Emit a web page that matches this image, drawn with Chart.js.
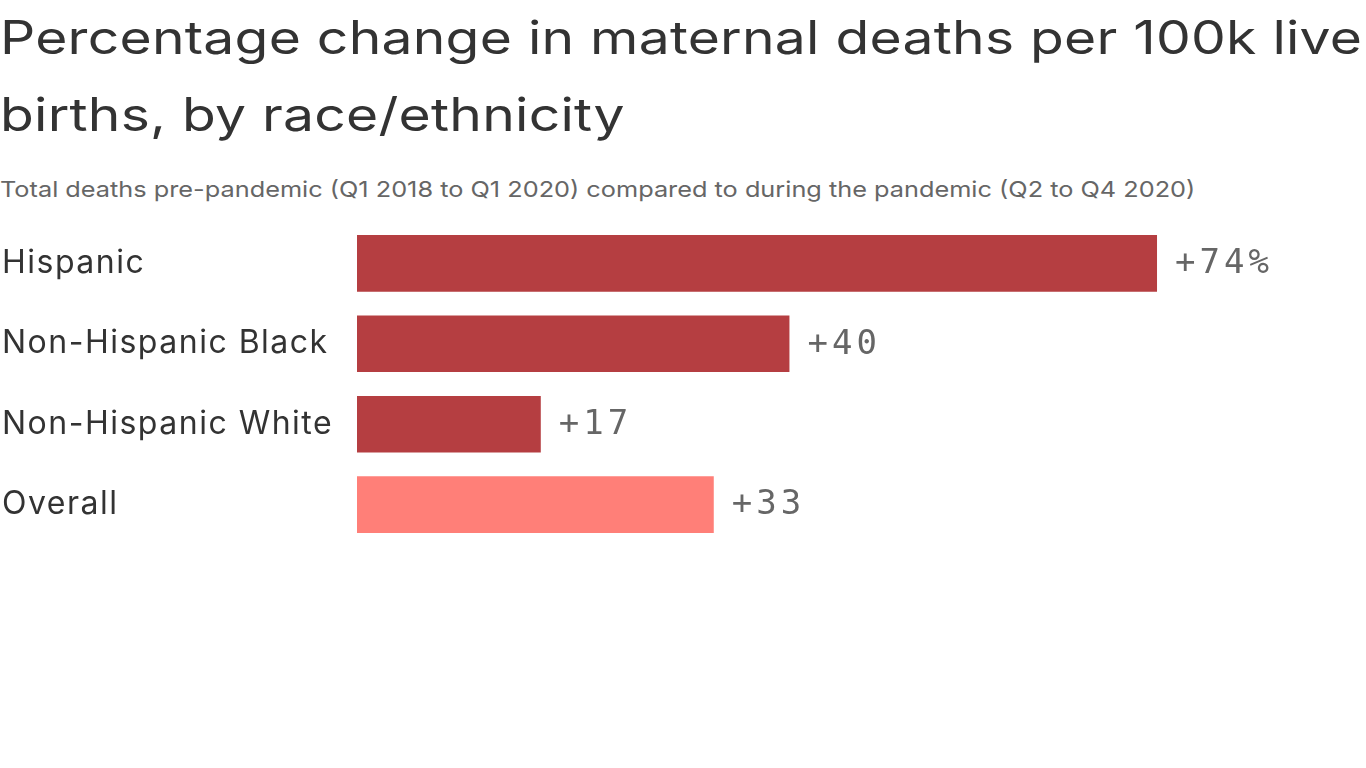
<!DOCTYPE html>
<html>
<head>
<meta charset="utf-8">
<script src="https://cdn.jsdelivr.net/npm/chart.js@4"></script>
<style>
  body { margin: 0; background: #fff; width: 1366px; height: 768px; overflow: hidden; font-family: Inter, "Noto Sans", sans-serif; }
  h1 { position: absolute; left: 0; top: -1px; margin: 0; font-size: 46px; font-weight: 400; line-height: 77px; color: #333; letter-spacing: 0.2px; white-space: nowrap; transform-origin: 0 0; transform: scaleX(1.2); }
  .sub { position: absolute; left: 0; top: 176px; font-size: 22px; color: #666; letter-spacing: 0; white-space: nowrap; transform-origin: 0 0; transform: scaleX(1.15); }
  #wrap { position: absolute; left: 0; top: 204px; width: 1366px; height: 360px; }
</style>
</head>
<body>
<h1>Percentage change in maternal deaths per 100k live<br>births, by race/ethnicity</h1>
<div class="sub">Total deaths pre-pandemic (Q1 2018 to Q1 2020) compared to during the pandemic (Q2 to Q4 2020)</div>
<div id="wrap"><canvas id="chart"></canvas></div>
<script>
const groups = ['Hispanic', 'Non-Hispanic Black', 'Non-Hispanic White', 'Overall'];
const changes = [74, 40, 17, 33];
const valueLabels = ['+74%', '+40', '+17', '+33'];
const barColors = ['#b53e41', '#b53e41', '#b53e41', '#ff7f78'];

// looser tracking for the category labels
const tracking = {
    id: 'tracking',
    beforeDraw(c) { c.ctx.letterSpacing = '1.5px'; }
};

// draw the value text just right of each bar
const valueText = {
    id: 'valueText',
    afterDatasetsDraw(c) {
        const ctx = c.ctx;
        const meta = c.getDatasetMeta(0);
        ctx.save();
        ctx.font = '34px "DejaVu Sans Mono", monospace';
        ctx.fillStyle = '#666';
        ctx.letterSpacing = '4px';
        ctx.textBaseline = 'middle';
        meta.data.forEach((bar, i) => {
            ctx.fillText(valueLabels[i], bar.x + 18, bar.y + 1);
        });
        ctx.restore();
    }
};

const chart = document.querySelector('#chart').getContext('2d');
new Chart(chart, {
    type: 'bar',
    data: {
        labels: groups,
        datasets: [{
            data: changes,
            backgroundColor: barColors,
            borderWidth: 0,
            barPercentage: 57 / 81,
            categoryPercentage: 1
        }]
    },
    options: {
        indexAxis: 'y',
        responsive: true,
        maintainAspectRatio: false,
        animation: false,
        layout: { padding: { right: 36, top: 0, bottom: 0, left: 2 } },
        plugins: { legend: { display: false }, tooltip: { enabled: false } },
        scales: {
            x: { display: false, min: 0, max: 90 },
            y: {
                grid: { display: false },
                border: { display: false },
                afterFit(axis) { axis.width = 355; },
                ticks: {
                    crossAlign: 'far',
                    color: '#333',
                    padding: 0,
                    font: { family: 'Inter, "Noto Sans", sans-serif', size: 32 }
                }
            }
        }
    },
    plugins: [tracking, valueText]
});
</script>
</body>
</html>
